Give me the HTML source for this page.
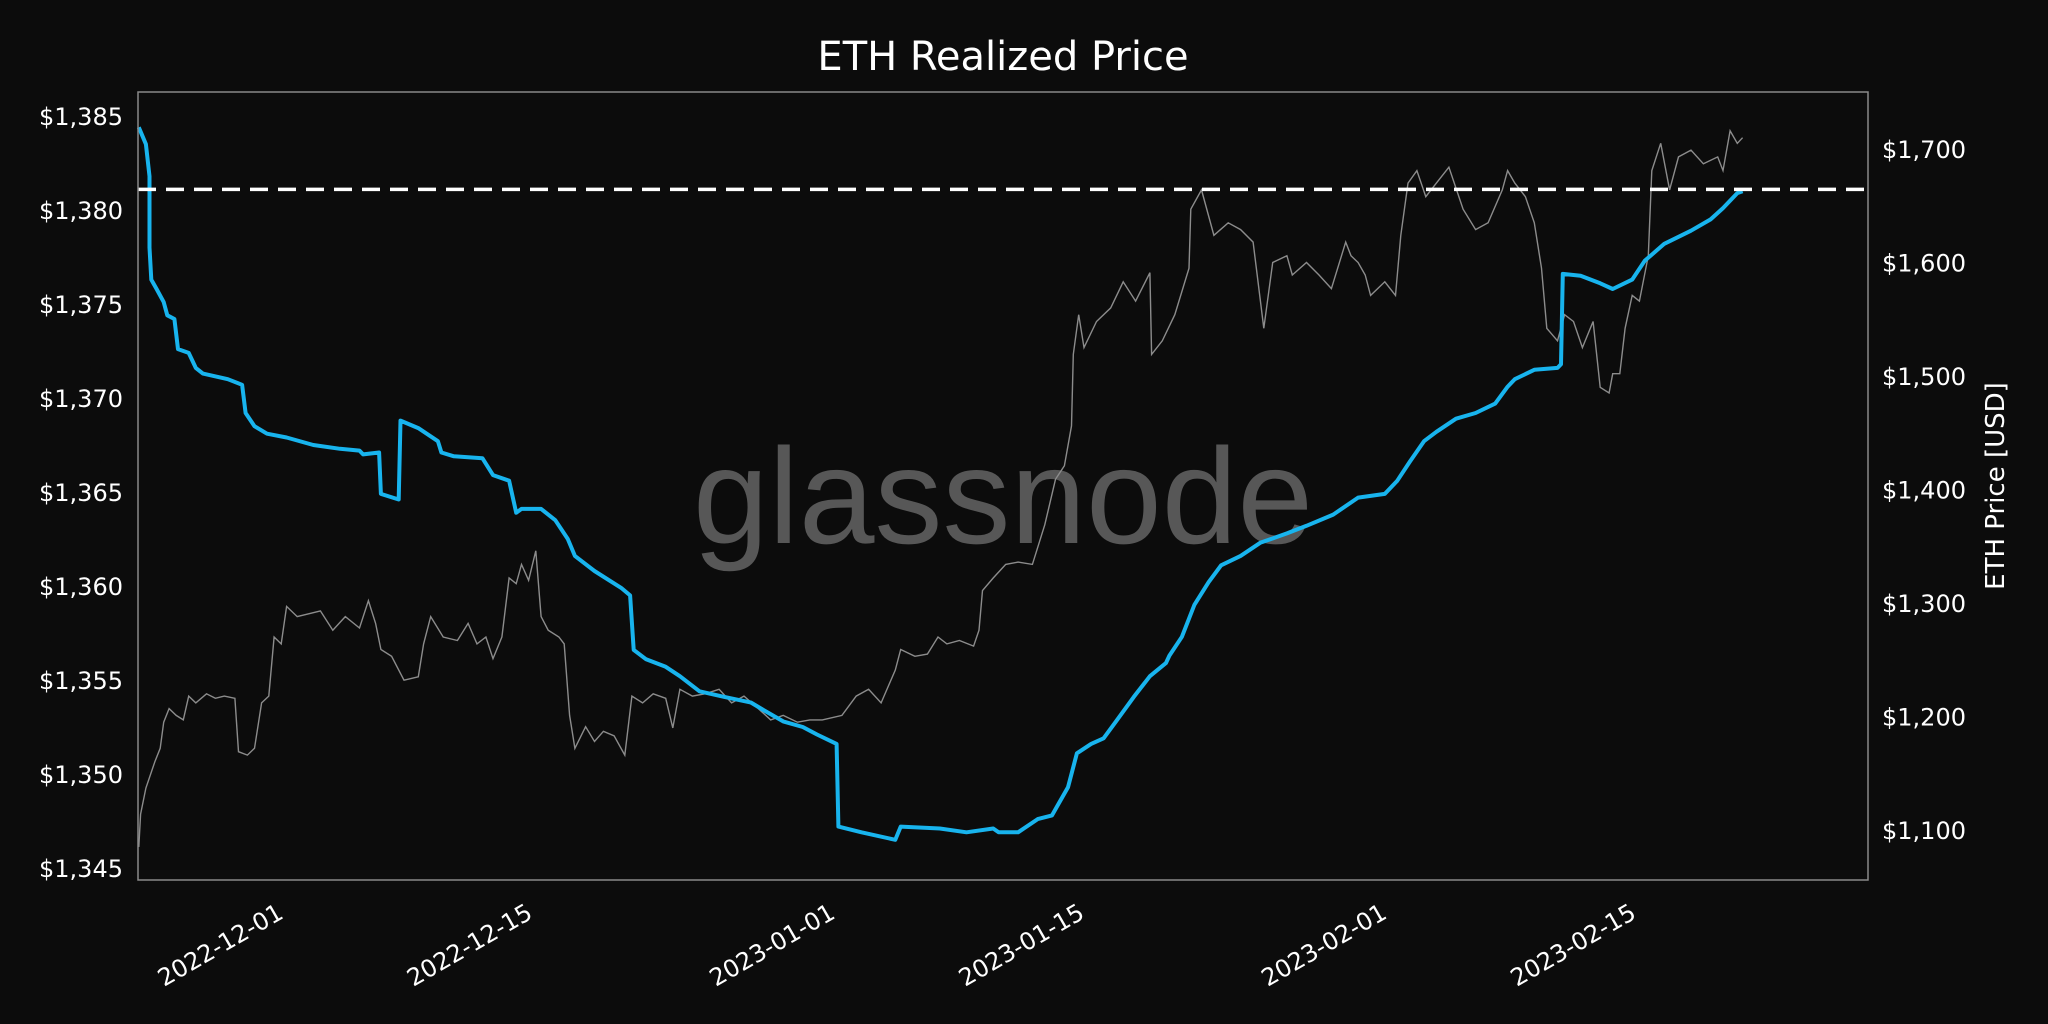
<!DOCTYPE html>
<html><head><meta charset="utf-8"><style>
html,body{margin:0;padding:0;background:#0c0c0c;}
svg{display:block;font-family:"DejaVu Sans","Liberation Sans",sans-serif;}
</style></head><body>
<svg id="chart" width="2048" height="1024" viewBox="0 0 2048 1024">
<rect width="2048" height="1024" fill="#0c0c0c"/>
<text x="1003" y="70" fill="#fff" font-size="40" text-anchor="middle">ETH Realized Price</text>
<text x="1003" y="543" fill="#575757" font-size="136" text-anchor="middle" style="font-family:'Liberation Sans',sans-serif">glassnode</text>
<g id="eth"></g>
<g id="real"></g>
<g id="axes"></g>
<rect x="138" y="92" width="1730" height="788" fill="none" stroke="#8a8a8a" stroke-width="1.5"/>
<text transform="translate(2004,486) rotate(-90)" fill="#fff" font-size="26" text-anchor="middle">ETH Price [USD]</text>
</svg>
<script>
const realDays=[-8.1,-7.7,-7.5,-7.5,-7.4,-7.1,-6.7,-6.5,-6.1,-5.9,-5.3,-4.9,-4.5,-3.1,-2.3,-2.1,-1.6,-0.9,0.2,1.7,3.2,4.3,4.5,5.4,5.5,6.5,6.6,7.6,8.7,8.9,9.6,11.2,11.8,12.7,13.1,13.4,14.5,15.3,16.0,16.4,17.5,19.0,19.5,19.7,20.4,21.5,22.3,23.4,24.8,26.3,27.0,28.1,29.2,30.0,31.1,31.2,32.5,34.4,34.7,36.9,38.4,39.9,40.2,41.3,42.4,43.2,43.5,44.1,44.6,45.4,46.1,46.8,47.8,48.7,49.6,49.8,50.5,51.2,52.0,52.7,53.8,54.9,56.4,57.5,59.0,60.4,61.9,62.6,63.3,64.1,64.8,65.9,67.0,68.1,68.8,69.2,70.3,71.6,71.8,71.9,72.9,74.0,74.7,75.8,76.5,77.6,79.1,80.2,80.9,81.7,82.0];
const realVals=[1384.4,1383.5,1381.8,1378.0,1376.3,1375.8,1375.1,1374.4,1374.2,1372.6,1372.4,1371.6,1371.3,1371.0,1370.7,1369.2,1368.5,1368.1,1367.9,1367.5,1367.3,1367.2,1367.0,1367.1,1364.9,1364.6,1368.8,1368.4,1367.7,1367.1,1366.9,1366.8,1365.9,1365.6,1363.9,1364.1,1364.1,1363.5,1362.5,1361.6,1360.8,1359.9,1359.5,1356.6,1356.1,1355.7,1355.2,1354.4,1354.1,1353.8,1353.4,1352.8,1352.5,1352.1,1351.6,1347.2,1346.9,1346.5,1347.2,1347.1,1346.9,1347.1,1346.9,1346.9,1347.6,1347.8,1348.3,1349.3,1351.1,1351.6,1351.9,1352.8,1354.1,1355.2,1355.9,1356.3,1357.3,1359.0,1360.2,1361.1,1361.6,1362.3,1362.8,1363.2,1363.8,1364.7,1364.9,1365.6,1366.6,1367.7,1368.2,1368.9,1369.2,1369.7,1370.6,1371.0,1371.5,1371.6,1371.8,1376.6,1376.5,1376.1,1375.8,1376.3,1377.3,1378.2,1378.9,1379.5,1380.1,1380.9,1381.0];
const ethDays=[-8.1,-8.0,-7.7,-7.2,-6.9,-6.7,-6.4,-6.0,-5.6,-5.3,-4.9,-4.3,-3.8,-3.3,-2.7,-2.5,-2.0,-1.6,-1.2,-0.8,-0.5,-0.1,0.2,0.8,1.3,2.1,2.8,3.5,4.3,4.8,5.2,5.5,6.1,6.8,7.6,7.9,8.3,9.0,9.8,10.4,10.9,11.4,11.8,12.3,12.7,13.1,13.4,13.8,14.2,14.5,14.9,15.5,15.8,16.1,16.4,17.0,17.5,18.0,18.6,19.2,19.6,20.2,20.8,21.5,21.9,22.3,23.0,23.7,24.5,25.2,25.9,26.7,27.4,28.1,28.9,29.6,30.3,31.4,32.2,32.9,33.6,34.4,34.7,35.5,36.2,36.8,37.3,38.0,38.8,39.1,39.3,39.9,40.6,41.3,42.1,42.8,43.4,43.9,44.3,44.4,44.7,45.0,45.7,46.5,47.2,47.9,48.7,48.8,49.4,50.1,50.9,51.0,51.6,52.3,53.1,53.8,54.5,55.1,55.6,56.4,56.7,57.5,58.2,58.9,59.7,60.0,60.4,60.8,61.1,61.9,62.5,62.8,63.2,63.7,64.2,64.8,65.5,66.3,67.0,67.7,68.5,68.8,69.2,69.8,70.3,70.7,71.0,71.6,72.0,72.5,73.0,73.6,74.0,74.5,74.7,75.1,75.4,75.8,76.2,76.7,76.9,77.4,77.9,78.4,79.1,79.8,80.6,80.9,81.3,81.7,82.0];
const ethVals=[1085,1114,1137,1160,1172,1195,1207,1201,1197,1218,1212,1220,1216,1218,1216,1169,1166,1172,1212,1218,1270,1264,1297,1288,1290,1293,1276,1288,1278,1302,1282,1259,1253,1232,1235,1264,1288,1270,1267,1282,1264,1270,1251,1270,1322,1317,1334,1320,1346,1288,1276,1270,1264,1201,1172,1191,1178,1187,1183,1166,1218,1212,1220,1216,1190,1224,1218,1220,1224,1212,1218,1207,1197,1201,1195,1197,1197,1201,1218,1224,1212,1241,1259,1253,1255,1270,1264,1267,1262,1276,1311,1322,1334,1336,1334,1369,1409,1421,1456,1519,1554,1525,1548,1560,1583,1566,1591,1519,1531,1554,1595,1647,1664,1624,1635,1629,1618,1542,1600,1606,1589,1600,1589,1577,1618,1606,1600,1589,1571,1583,1571,1624,1670,1681,1658,1670,1684,1647,1629,1635,1664,1681,1670,1658,1635,1595,1542,1531,1554,1548,1525,1548,1490,1485,1502,1502,1542,1571,1566,1606,1681,1705,1664,1693,1699,1687,1693,1681,1716,1705,1710];
const leftTicks=[1345,1350,1355,1360,1365,1370,1375,1380,1385];
const rightTicks=[1100,1200,1300,1400,1500,1600,1700];
const xTickDays=[0,14,31,45,62,76];
const xTickLabels=["2022-12-01","2022-12-15","2023-01-01","2023-01-15","2023-02-01","2023-02-15"];
const refLevel=1381.1;

const X=d=>283+d*17.8;
const YL=v=>210-(v-1380)*18.8;
const YR=p=>149-(p-1700)*1.135;
const NS="http://www.w3.org/2000/svg";
function mk(tag,attrs,parent){const e=document.createElementNS(NS,tag);for(const k in attrs)e.setAttribute(k,attrs[k]);parent.appendChild(e);return e;}

const eth=document.getElementById('eth');
const ep=mk('path',{d:ethDays.map((d,i)=>(i?'L':'M')+X(d).toFixed(1)+','+YR(ethVals[i]).toFixed(1)).join(''),fill:'none',stroke:'#8c8c8c','stroke-width':1.4},eth);



const real=document.getElementById('real');
const rp=mk('path',{d:realDays.map((d,i)=>(i?'L':'M')+X(d).toFixed(1)+','+YL(realVals[i]).toFixed(1)).join(''),fill:'none',stroke:'#18b4ee','stroke-width':4,'stroke-linejoin':'round'},real);



const ax=document.getElementById('axes');
const dl=mk('line',{x1:138,x2:1868,y1:YL(refLevel),y2:YL(refLevel),stroke:'#fff','stroke-width':3.5,'stroke-dasharray':'18 10'},ax);



leftTicks.forEach(v=>{
  const t=mk('text',{x:123,y:YL(v)+9,fill:'#fff','font-size':24,'text-anchor':'end'},ax);
  t.textContent='$'+v.toLocaleString('en-US');
  
  
});
rightTicks.forEach(v=>{
  const t=mk('text',{x:1882,y:YR(v)+9,fill:'#fff','font-size':24,'text-anchor':'start'},ax);
  t.textContent='$'+v.toLocaleString('en-US');
  
  
});
xTickDays.forEach((d,i)=>{
  const x=X(d);
  const t=mk('text',{transform:`translate(${x-7},${902}) rotate(-30)`,fill:'#fff','font-size':24,'text-anchor':'end','dominant-baseline':'hanging'},ax);
  t.textContent=xTickLabels[i];
  
  
});
</script>
</body></html>
